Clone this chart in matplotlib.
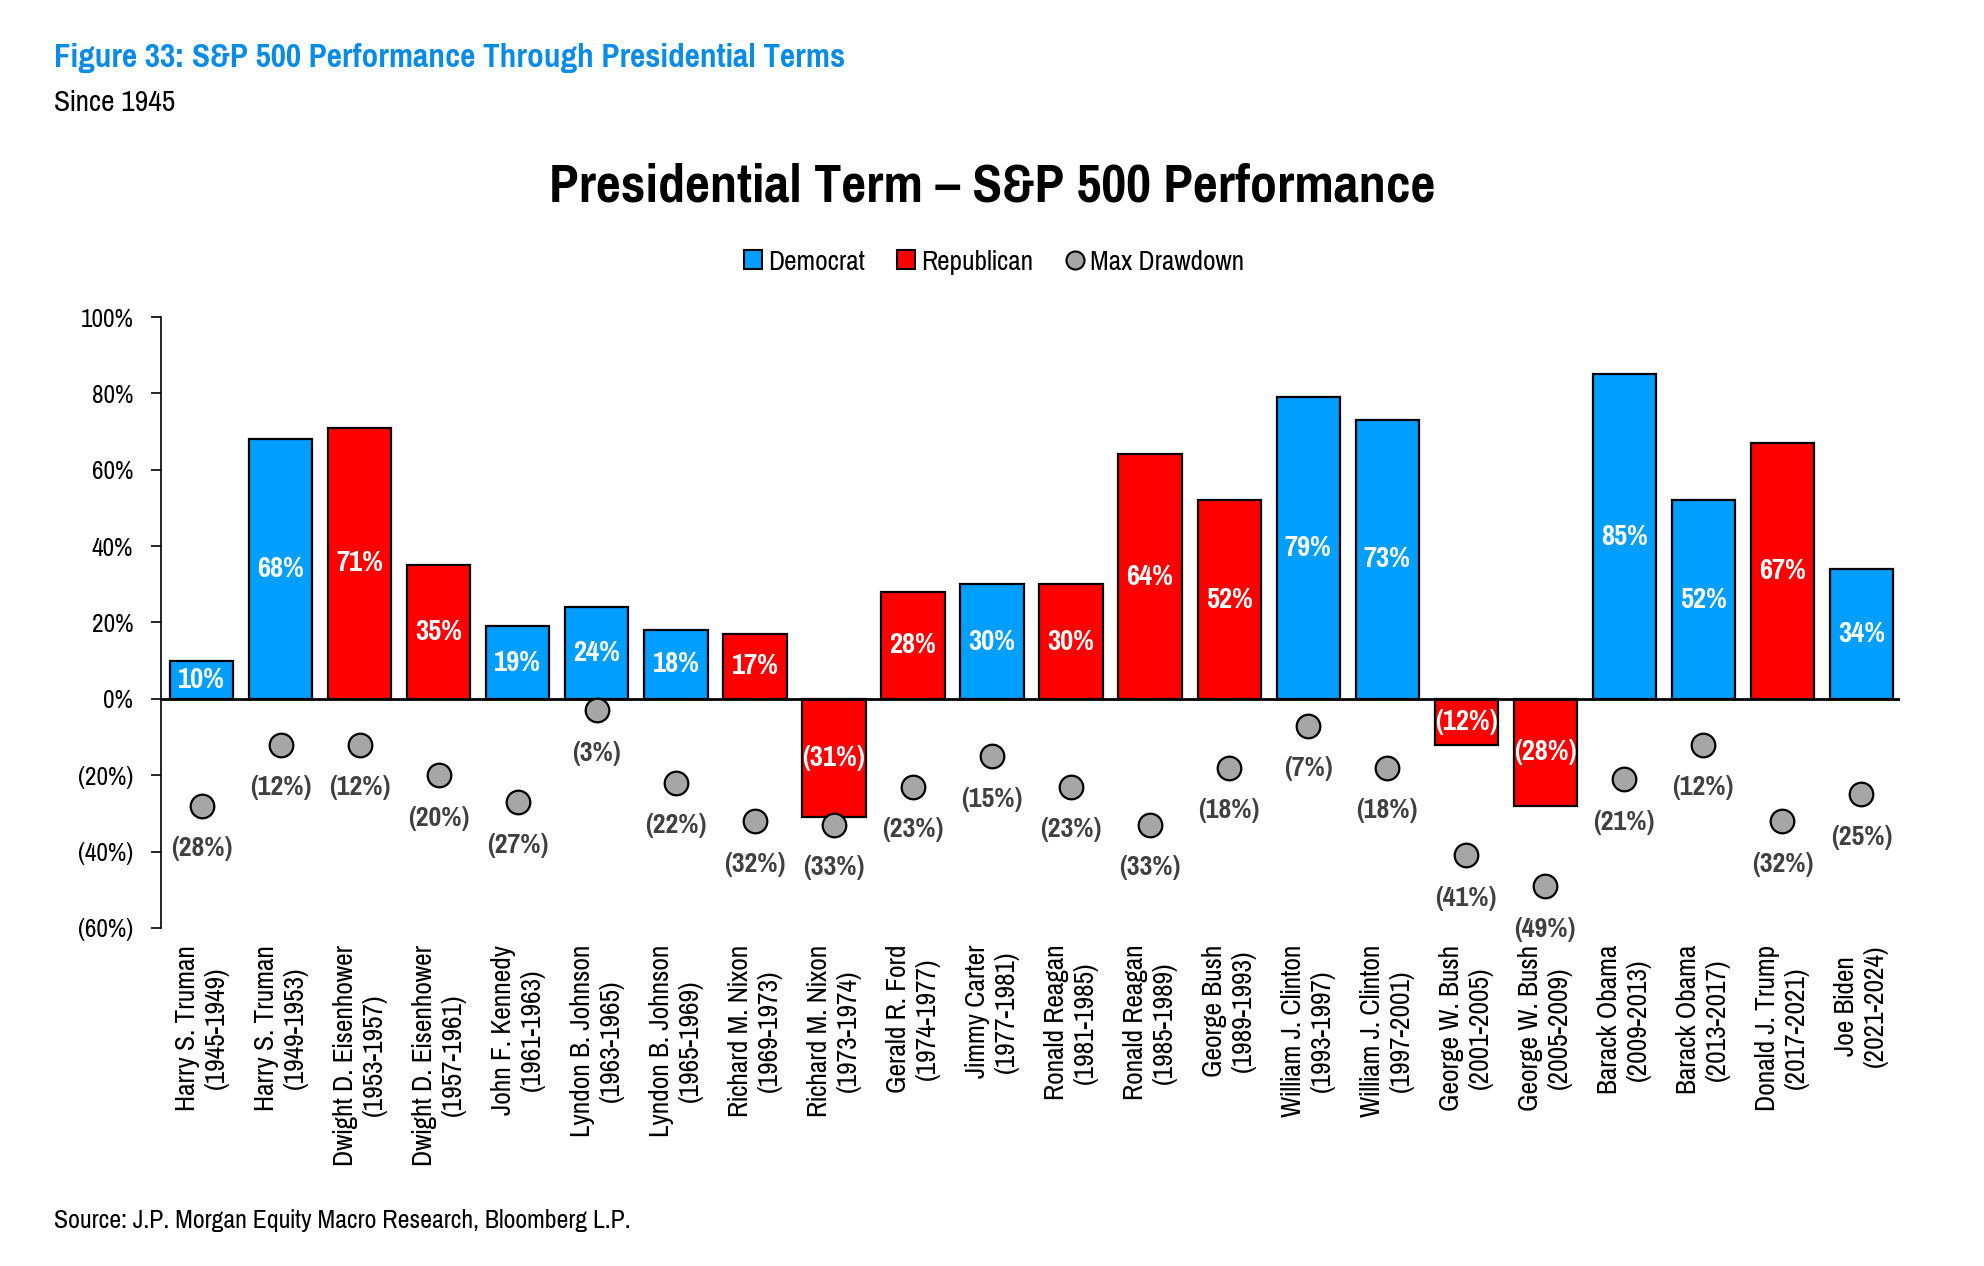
import matplotlib
matplotlib.use("Agg")
import matplotlib.pyplot as plt
from matplotlib import font_manager
from matplotlib.patches import Patch
from matplotlib.lines import Line2D

# ---------------- data ----------------
presidents = [
    "Harry S. Truman\n(1945-1949)", "Harry S. Truman\n(1949-1953)",
    "Dwight D. Eisenhower\n(1953-1957)", "Dwight D. Eisenhower\n(1957-1961)",
    "John F. Kennedy\n(1961-1963)", "Lyndon B. Johnson\n(1963-1965)",
    "Lyndon B. Johnson\n(1965-1969)", "Richard M. Nixon\n(1969-1973)",
    "Richard M. Nixon\n(1973-1974)", "Gerald R. Ford\n(1974-1977)",
    "Jimmy Carter\n(1977-1981)", "Ronald Reagan\n(1981-1985)",
    "Ronald Reagan\n(1985-1989)", "George Bush\n(1989-1993)",
    "William J. Clinton\n(1993-1997)", "William J. Clinton\n(1997-2001)",
    "George W. Bush\n(2001-2005)", "George W. Bush\n(2005-2009)",
    "Barack Obama\n(2009-2013)", "Barack Obama\n(2013-2017)",
    "Donald J. Trump\n(2017-2021)", "Joe Biden\n(2021-2024)",
]
party = ["D", "D", "R", "R", "D", "D", "D", "R", "R", "R", "D",
         "R", "R", "R", "D", "D", "R", "R", "D", "D", "R", "D"]
performance = [10, 68, 71, 35, 19, 24, 18, 17, -31, 28, 30,
               30, 64, 52, 79, 73, -12, -28, 85, 52, 67, 34]
max_drawdown = [-28, -12, -12, -20, -27, -3, -22, -32, -33, -23, -15,
                -23, -33, -18, -7, -18, -41, -49, -21, -12, -32, -25]
y_ticks = [-60, -40, -20, 0, 20, 40, 60, 80, 100]

# ---------------- fonts ----------------
def _family_ok(name):
    ents = [f for f in font_manager.fontManager.ttflist if f.name == name]
    if not ents:
        return False
    ws = []
    for f in ents:
        try:
            ws.append(int(f.weight))
        except (TypeError, ValueError):
            ws.append(700 if str(f.weight) == "bold" else 400)
    return any(w >= 650 for w in ws) and any(w < 600 for w in ws)

NARROW = "Liberation Sans"
for cand in ["Arial Narrow", "Liberation Sans Narrow", "Pragati Narrow",
             "Roboto Condensed", "PT Sans Narrow", "Archivo Narrow",
             "IBM Plex Sans Condensed"]:
    if _family_ok(cand):
        NARROW = cand
        break
FAM = [NARROW, "DejaVu Sans"]

DEM = "#009EFF"
REP = "#FF0000"
GREY = "#A6A6A6"
LBL_GREY = "#404040"
TITLE_BLUE = "#0A8BE4"

def pct(v):
    return f"({abs(v):.0f}%)" if v < 0 else f"{v:.0f}%"

fig = plt.figure(figsize=(19.84, 12.66), dpi=100)
renderer = fig.canvas.get_renderer()

def fit(sample, target_px, weight="normal"):
    t = fig.text(0, 0, sample, fontsize=100, family=FAM, fontweight=weight)
    w = t.get_window_extent(renderer).width
    t.remove()
    return 100.0 * target_px / w

fs_fig_title = fit("Figure 33: S&P 500 Performance Through Presidential Terms", 792, "bold")
fs_sub = fit("Since 1945", 121)
fs_title = fit("Presidential Term \u2013 S&P 500 Performance", 886, "bold")
fs_legend = fit("Democrat", 97)
fs_ytick = fit("100%", 53)
fs_source = fit("Source: J.P. Morgan Equity Macro Research, Bloomberg L.P.", 578)
fs_bar = fit("68%", 47, "bold")
fs_dd = fit("(28%)", 61, "bold")
fs_x = fit("Dwight D. Eisenhower", 221)

ax = fig.add_axes([0.0812, 0.267, 0.8765, 0.4826])

x = list(range(len(presidents)))
colors = [DEM if p == "D" else REP for p in party]
ax.bar(x, performance, width=0.8, color=colors, edgecolor="black", linewidth=1.6, zorder=2)
ax.axhline(0, color="black", linewidth=2, zorder=3)

for xi, v in zip(x, performance):
    ax.text(xi, v / 2, pct(v), ha="center", va="center", color="white",
            fontsize=fs_bar, fontweight="bold", family=FAM, zorder=4)

ax.plot(x, max_drawdown, linestyle="none", marker="o", markersize=17,
        markerfacecolor=GREY, markeredgecolor="black", markeredgewidth=1.6, zorder=5)
for xi, v in zip(x, max_drawdown):
    ax.annotate(pct(v), (xi, v), xytext=(0, -31), textcoords="offset points",
                ha="center", va="center", color=LBL_GREY, fontsize=fs_dd,
                fontweight="bold", family=FAM, zorder=5)

ax.set_xlim(-0.514, 21.49)
ax.set_ylim(-60, 100)
ax.set_yticks(y_ticks)
ax.set_yticklabels([pct(t) for t in y_ticks], family=FAM, fontsize=fs_ytick)
ax.set_xticks(x)
ax.set_xticklabels(presidents, rotation=90, ha="center", va="top",
                   multialignment="center", family=FAM, fontsize=fs_x)
ax.tick_params(axis="x", length=0, pad=12)
ax.tick_params(axis="y", length=7, width=1.2, pad=13)
for s in ["top", "right", "bottom"]:
    ax.spines[s].set_visible(False)
ax.spines["left"].set_linewidth(1.2)

# titles
fig.text(0.027, 0.954, "Figure 33: S&P 500 Performance Through Presidential Terms",
         color=TITLE_BLUE, fontsize=fs_fig_title, fontweight="bold", family=FAM, va="center")
fig.text(0.027, 0.919, "Since 1945", color="black", fontsize=fs_sub, family=FAM, va="center")
fig.text(0.5, 0.853, "Presidential Term \u2013 S&P 500 Performance", ha="center", va="center",
         fontsize=fs_title, fontweight="bold", family=FAM)
fig.text(0.027, 0.0356, "Source: J.P. Morgan Equity Macro Research, Bloomberg L.P.",
         fontsize=fs_source, family=FAM, va="center")

handles = [
    Patch(facecolor=DEM, edgecolor="black", linewidth=1.5, label="Democrat"),
    Patch(facecolor=REP, edgecolor="black", linewidth=1.5, label="Republican"),
    Line2D([], [], linestyle="none", marker="o", markersize=13, markerfacecolor=GREY,
           markeredgecolor="black", markeredgewidth=1.5, label="Max Drawdown"),
]
fig.legend(handles=handles, loc="center", bbox_to_anchor=(0.501, 0.793), ncol=3,
           frameon=False, prop={"family": FAM, "size": fs_legend},
           handlelength=0.6, handleheight=0.6, handletextpad=0.2, columnspacing=1.1)

fig.savefig("out.png", dpi=100)
